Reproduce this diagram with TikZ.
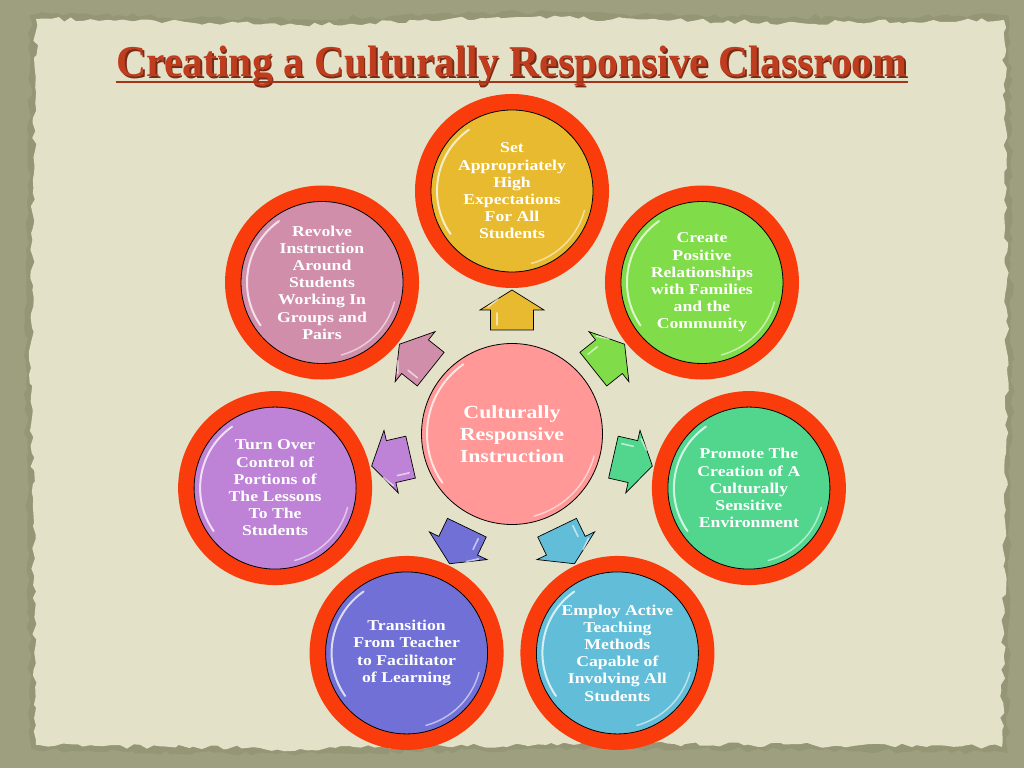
\documentclass[tikz,border=0pt]{standalone}
\usepackage{fontspec}
\setmainfont{Liberation Serif}
\newfontfamily\bubblefont[FakeStretch=1.18]{Liberation Serif}
\newfontfamily\headfont[FakeStretch=0.945]{Liberation Serif}
\usetikzlibrary{calc,decorations.pathmorphing}
\definecolor{olivebg}{RGB}{158,159,127}
\definecolor{olivedark}{RGB}{134,134,104}
\definecolor{papercol}{RGB}{227,225,199}
\definecolor{ringcol}{RGB}{250,60,12}
\definecolor{titlecol}{RGB}{192,60,30}
\definecolor{shadowcol}{RGB}{120,44,22}
\definecolor{corecol}{RGB}{255,152,150}
\definecolor{goldcol}{RGB}{232,186,48}
\definecolor{limecol}{RGB}{128,220,72}
\definecolor{mintcol}{RGB}{82,214,142}
\definecolor{skycol}{RGB}{98,190,216}
\definecolor{indigocol}{RGB}{112,112,214}
\definecolor{violetcol}{RGB}{190,130,214}
\definecolor{mauvecol}{RGB}{208,142,170}

\begin{document}
\begin{tikzpicture}[x=1pt, y=1pt,
    gloss/.style={path picture={
        \draw[white, line width=2pt, opacity=0.75, line cap=round] ([shift={(125:#1)}]path picture bounding box.center) arc[start angle=125, end angle=215, radius=#1];
        \draw[white, line width=1.5pt, opacity=0.55, line cap=round] ([shift={(-75:#1)}]path picture bounding box.center) arc[start angle=-75, end angle=-15, radius=#1];}},
    goal/.style={circle, minimum size=162pt, inner sep=0pt, draw=black, line width=0.8pt, text=white, align=center, font=\bubblefont\bfseries\fontsize{15}{17.2}\selectfont, preaction={draw=ringcol, line width=32pt}, gloss=75pt},
    core/.style={circle, minimum size=181pt, inner sep=0pt, draw=black, line width=0.8pt, fill=corecol, text=white, align=center, font=\bubblefont\bfseries\fontsize{18.5}{22}\selectfont, gloss=85pt},
    pointer/.pic={
        \path[pic actions] (-20,-21.5) -- (0,-21.5) -- (0,-32) -- (20,0) -- (0,32) -- (0,21.5) -- (-20,21.5) -- cycle;
        \draw[white, opacity=0.6, line width=1.6pt, line cap=round] (-15,15) -- (-3,15);
        \draw[white, opacity=0.6, line width=1.6pt, line cap=round] (3,24) -- (11,14);},
    heading/.style={font=\headfont\bfseries\fontsize{44}{50}\selectfont, inner sep=0pt, anchor=base},
]
\useasboundingbox (0,0) rectangle (1024,768);
% backdrop and torn paper
\fill[olivebg] (0,0) rectangle (1024,768);
\draw[olivedark, line width=10pt, opacity=0.35, decorate, decoration={random steps, segment length=7pt, amplitude=2.5pt}]
    (36,23) -- (31,400) -- (36,749) -- (300,743) -- (520,751) -- (800,745) -- (1004,748) -- (1007,400) -- (1002,21) -- (600,25) -- (300,19) -- cycle;
\fill[papercol, decorate, decoration={random steps, segment length=7pt, amplitude=2.5pt}]
    (36,23) -- (31,400) -- (36,749) -- (300,743) -- (520,751) -- (800,745) -- (1004,748) -- (1007,400) -- (1002,21) -- (600,25) -- (300,19) -- cycle;

% title
\node[heading, text=shadowcol] (titleshadow) at (513.5,689.5) {Creating a Culturally Responsive Classroom};
\node[heading, text=titlecol] (title) at (512,691) {Creating a Culturally Responsive Classroom};
\draw[titlecol!85!black, line width=2.2pt] ([yshift=-5pt]title.base west) -- ([yshift=-5pt]title.base east);

% hub and goals
\node[core] (core) at (512,334) {Culturally\\Responsive\\Instruction};

\node[goal, fill=goldcol] (expect) at ($(core)+(90:243pt)$) {Set\\Appropriately\\High\\Expectations\\For All\\Students};
\node[goal, fill=limecol] (relate) at ($(core)+(38.57:243pt)$) {Create\\Positive\\Relationships\\with Families\\and the\\Community};
\node[goal, fill=mintcol] (promote) at ($(core)+(-12.86:243pt)$) {Promote The\\Creation of A\\Culturally\\Sensitive\\Environment};
\node[goal, fill=skycol] (employ) at ($(core)+(-64.29:243pt)$) {Employ Active\\Teaching\\Methods\\Capable of\\Involving All\\Students};
\node[goal, fill=indigocol] (transit) at ($(core)+(-115.71:243pt)$) {Transition\\From Teacher\\to Facilitator\\of Learning};
\node[goal, fill=violetcol] (turnover) at ($(core)+(-167.14:243pt)$) {Turn Over\\Control of\\Portions of\\The Lessons\\To The\\Students};
\node[goal, fill=mauvecol] (revolve) at ($(core)+(141.43:243pt)$) {Revolve\\Instruction\\Around\\Students\\Working In\\Groups and\\Pairs};

% block arrows
\pic[draw=black, line width=0.7pt, fill=goldcol, rotate=90] (toexpect) at ($(core)!124pt!(expect)$) {pointer};
\pic[draw=black, line width=0.7pt, fill=limecol, rotate=38.57] (torelate) at ($(core)!124pt!(relate)$) {pointer};
\pic[draw=black, line width=0.7pt, fill=mintcol, rotate=-12.86] (topromote) at ($(core)!124pt!(promote)$) {pointer};
\pic[draw=black, line width=0.7pt, fill=skycol, rotate=-64.29] (toemploy) at ($(core)!124pt!(employ)$) {pointer};
\pic[draw=black, line width=0.7pt, fill=indigocol, rotate=-115.71] (totransit) at ($(core)!124pt!(transit)$) {pointer};
\pic[draw=black, line width=0.7pt, fill=violetcol, rotate=-167.14] (toturnover) at ($(core)!124pt!(turnover)$) {pointer};
\pic[draw=black, line width=0.7pt, fill=mauvecol, rotate=141.43] (torevolve) at ($(core)!124pt!(revolve)$) {pointer};
\end{tikzpicture}
\end{document}
